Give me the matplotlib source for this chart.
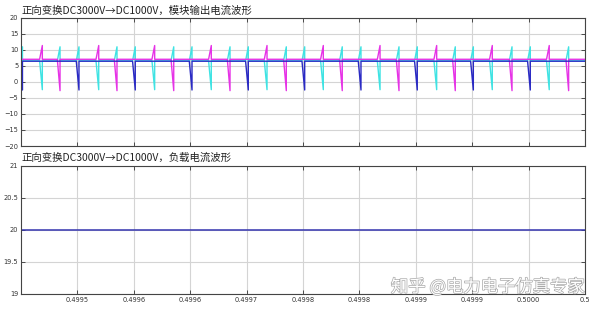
import matplotlib
matplotlib.use('Agg')
import matplotlib.pyplot as plt
import matplotlib.patheffects as pe

############################################################
# Datos
############################################################

# instantes de conmutacion [s]
t_evento_a = [0.4995013, 0.4995514, 0.4996013, 0.4996516, 0.4997015,
              0.4997515, 0.4998014, 0.4998513, 0.4999010, 0.4999515]
t_evento_b = [0.4995189, 0.4995689, 0.4996185, 0.4996687, 0.4997181,
              0.4997680, 0.4998183, 0.4998685, 0.4999178, 0.4999683]
t_evento_c = [0.4995346, 0.4995851, 0.4996354, 0.4996853, 0.4997352,
              0.4997848, 0.4998351, 0.4998850, 0.4999353, 0.4999855]

# niveles de corriente [A]
base_magenta = 7.1
base_azul = 6.5
base_cian = 6.6
pico_magenta = 11.4
pico_cian = 11.0
valle_magenta = -2.7
valle_cian = -2.4
valle_azul = -2.5

i_carga = 20.0

t_ini = 0.4995
t_fin = 0.5
ticks_x = [0.49955, 0.4996, 0.49965, 0.4997, 0.49975,
           0.4998, 0.49985, 0.4999, 0.49995, 0.5]
etiquetas_x = ['0.4995', '0.4996', '0.4996', '0.4997', '0.4998',
               '0.4998', '0.4999', '0.4999', '0.5000', '0.5']

titulo_1 = '正向变换DC3000V→DC1000V，模块输出电流波形'
titulo_2 = '正向变换DC3000V→DC1000V，负载电流波形'
marca = '知乎 @电力电子仿真专家'

fuente_cjk = ['Noto Sans CJK SC', 'DejaVu Sans']

############################################################
# Construir forma de onda: rampa hasta el extremo y vuelta
############################################################

RAMPA = 2.4e-6


def forma_onda(base, spikes):

    t = [t_ini]
    y = [base]

    for ts, nivel in sorted(spikes):
        t += [ts - RAMPA, ts, ts]
        y += [base, nivel, base]

    t.append(t_fin)
    y.append(base)

    return t, y


t_cian, y_cian = forma_onda(
    base_cian,
    [(ts, pico_cian) for ts in t_evento_a]
    + [(ts, pico_cian) for ts in t_evento_c]
    + [(ts, valle_cian) for ts in t_evento_b]
)

t_mag, y_mag = forma_onda(
    base_magenta,
    [(ts, pico_magenta) for ts in t_evento_b]
    + [(ts, valle_magenta) for ts in t_evento_c]
)

t_azul, y_azul = forma_onda(
    base_azul,
    [(ts, valle_azul) for ts in t_evento_a]
)

############################################################
# Figura
############################################################

fig = plt.figure(figsize=(6.0, 3.13), dpi=100)

W = 600.0
H = 313.0

ax1 = fig.add_axes([21 / W, 1 - 146 / H, 564 / W, 128 / H])
ax2 = fig.add_axes([21 / W, 1 - 294 / H, 564 / W, 128 / H])


def estilo(ax):

    ax.set_xlim(t_ini, t_fin)
    ax.set_xticks(ticks_x)
    ax.grid(True, color='#d4d4d4', linewidth=0.8)
    ax.set_axisbelow(True)
    ax.tick_params(direction='in', length=3, width=0.6,
                   top=True, right=True, labelsize=4.8,
                   colors='#333333', pad=2)
    for s in ax.spines.values():
        s.set_color('#444444')
        s.set_linewidth(0.8)


estilo(ax1)
estilo(ax2)

ax1.plot(t_cian, y_cian, color='#3fe3e3', linewidth=1.0)
ax1.plot(t_mag, y_mag, color='#e633e6', linewidth=1.0)
ax1.plot(t_azul, y_azul, color='#2a2ac4', linewidth=1.0)
ax1.set_ylim(-20, 20)
ax1.set_yticks(range(-20, 21, 5))
ax1.set_xticklabels([])

ax2.plot([t_ini, t_fin], [i_carga, i_carga], color='#3535b0', linewidth=1.1)
ax2.set_ylim(19, 21)
ax2.set_yticks([19, 19.5, 20, 20.5, 21])
ax2.set_yticklabels(['19', '19.5', '20', '20.5', '21'])
ax2.set_xticklabels(etiquetas_x)

############################################################
# Textos
############################################################

fig.text(21 / W, 1 - 10.5 / H, titulo_1, family=fuente_cjk,
         fontsize=7.5, color='#222222', va='center', ha='left')
fig.text(21 / W, 1 - 157.5 / H, titulo_2, family=fuente_cjk,
         fontsize=7.5, color='#222222', va='center', ha='left')

fig.text(585 / W, 1 - 287 / H, marca, family=fuente_cjk,
         fontsize=12.5, color='white', va='center', ha='right',
         path_effects=[pe.withStroke(linewidth=1.0, foreground='#a8a8a8')])

fig.savefig('out.png', dpi=100)
